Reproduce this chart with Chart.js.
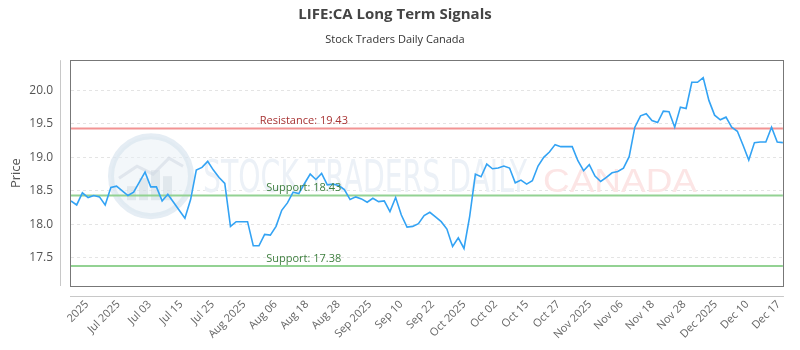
<!DOCTYPE html>
<html>
<head>
<meta charset="utf-8">
<script src="https://cdn.jsdelivr.net/npm/chart.js@4.4.1/dist/chart.umd.min.js"></script>
<style>
    html, body { margin: 0; padding: 0; background: #fff; }
</style>
</head>
<body>
<canvas id="signalChart" width="800" height="350"></canvas>
<script>
// daily closes
const prices = [
    18.35, 18.29, 18.47, 18.40, 18.43, 18.41, 18.29, 18.55, 18.57, 18.50,
    18.43, 18.48, 18.63, 18.78, 18.56, 18.56, 18.35, 18.45, 18.33, 18.21,
    18.09, 18.37, 18.81, 18.85, 18.94, 18.81, 18.70, 18.61, 17.97, 18.04,
    18.04, 18.04, 17.68, 17.68, 17.85, 17.84, 17.97, 18.21, 18.32, 18.48,
    18.46, 18.61, 18.75, 18.67, 18.76, 18.59, 18.60, 18.58, 18.52, 18.37,
    18.41, 18.38, 18.33, 18.39, 18.34, 18.35, 18.19, 18.40, 18.14, 17.96,
    17.97, 18.01, 18.13, 18.18, 18.11, 18.04, 17.93, 17.67, 17.80, 17.64,
    18.12, 18.75, 18.71, 18.90, 18.83, 18.84, 18.87, 18.84, 18.62, 18.66,
    18.60, 18.65, 18.87, 19.00, 19.08, 19.19, 19.16, 19.16, 19.16, 18.95,
    18.80, 18.89, 18.72, 18.64, 18.70, 18.77, 18.79, 18.84, 19.01, 19.45,
    19.62, 19.65, 19.55, 19.52, 19.69, 19.68, 19.45, 19.75, 19.73, 20.12,
    20.12, 20.19, 19.85, 19.63, 19.56, 19.60, 19.45, 19.39, 19.18, 18.96,
    19.22, 19.23, 19.23, 19.45, 19.23, 19.22
];

const tickLabels = [
    '2025', 'Jul 2025', 'Jul 03', 'Jul 15', 'Jul 25', 'Aug 2025', 'Aug 06',
    'Aug 18', 'Aug 28', 'Sep 2025', 'Sep 10', 'Sep 22', 'Oct 2025', 'Oct 02',
    'Oct 15', 'Oct 27', 'Nov 2025', 'Nov 06', 'Nov 18', 'Nov 28', 'Dec 2025',
    'Dec 10', 'Dec 17'
];

const levelNames = ['Resistance', 'Support', 'Support'];
const levelValues = [19.43, 18.43, 17.38];
const levelColors = ['#f29393', '#93d293', '#93d293'];
const levelTextColors = ['#a83434', '#3f7f3f', '#3f7f3f'];

// where the labelled ticks fall, in data-index units
const tickStart = 2.8;
const tickStep = 5.52;

const FONT = '"Open Sans", "Noto Sans", sans-serif';
const lastIndex = prices.length - 1;

function levelLine(v) {
    return [{ x: 0, y: v }, { x: lastIndex, y: v }];
}

function drawWatermark(ctx, area) {
    const l = area.left, t = area.top;
    ctx.save();
    ctx.beginPath();
    ctx.rect(area.left, area.top, area.right - area.left, area.bottom - area.top);
    ctx.clip();

    // round logo
    const cx = l + 80, cy = t + 116, r = 40;
    ctx.beginPath();
    ctx.arc(cx, cy, r, 0, Math.PI * 2);
    ctx.fillStyle = 'rgba(232,239,246,0.5)';
    ctx.fill();
    ctx.lineWidth = 6;
    ctx.strokeStyle = 'rgba(218,229,240,0.7)';
    ctx.stroke();

    ctx.fillStyle = 'rgba(205,213,222,0.45)';
    [[-24, 14], [-12, 22], [0, 30], [12, 24]].forEach(([dx, h]) => {
        ctx.fillRect(cx + dx, cy + 24 - h, 9, h);
    });
    ctx.beginPath();
    ctx.moveTo(cx - 32, cy + 2);
    ctx.lineTo(cx - 14, cy - 10);
    ctx.lineTo(cx + 2, cy - 2);
    ctx.lineTo(cx + 18, cy - 18);
    ctx.lineTo(cx + 32, cy - 10);
    ctx.lineWidth = 3;
    ctx.strokeStyle = 'rgba(205,214,225,0.5)';
    ctx.stroke();

    // text
    ctx.textBaseline = 'alphabetic';
    ctx.textAlign = 'left';
    ctx.font = '44px "DejaVu Sans Condensed", "DejaVu Sans", sans-serif';
    const txt = 'STOCK TRADERS DAILY';
    const w = ctx.measureText(txt).width;
    ctx.save();
    ctx.translate(l + 132, t + 132);
    ctx.scale(324 / w, 1);
    ctx.fillStyle = '#ecf1f7';
    ctx.fillText(txt, 0, 0);
    ctx.restore();

    ctx.font = '33px "Liberation Sans", Arial, sans-serif';
    const w2 = ctx.measureText('CANADA').width;
    ctx.save();
    ctx.translate(l + 472, t + 132);
    ctx.scale(154 / w2, 1);
    ctx.fillStyle = '#fce5e5';
    ctx.fillText('CANADA', 0, 0);
    ctx.restore();

    ctx.restore();
}

const framePlugin = {
    id: 'frame',
    beforeDatasetsDraw(chart) {
        drawWatermark(chart.ctx, chart.chartArea);
    },
    afterDatasetsDraw(chart) {
        const ctx = chart.ctx;
        const a = chart.chartArea;
        const y = chart.scales.y;

        // level captions
        ctx.save();
        ctx.font = '11px ' + FONT;
        ctx.textAlign = 'center';
        ctx.textBaseline = 'bottom';
        levelValues.forEach((v, i) => {
            ctx.fillStyle = levelTextColors[i];
            ctx.fillText(levelNames[i] + ': ' + v.toFixed(2),
                a.left + (a.right - a.left) * 0.327, y.getPixelForValue(v) - 2);
        });
        ctx.restore();

        // box round the plot
        ctx.save();
        ctx.strokeStyle = '#777';
        ctx.lineWidth = 1;
        ctx.strokeRect(Math.round(a.left) - 0.5, Math.round(a.top) + 0.5,
            Math.round(a.right - a.left) + 1, Math.round(a.bottom - a.top));

        // detached axis lines
        ctx.strokeStyle = '#c8c8c8';
        ctx.beginPath();
        ctx.moveTo(Math.round(a.left) - 10.5, a.top);
        ctx.lineTo(Math.round(a.left) - 10.5, a.bottom);
        ctx.moveTo(a.left - 1, Math.round(a.bottom) + 10.5);
        ctx.lineTo(a.right + 1, Math.round(a.bottom) + 10.5);
        ctx.stroke();
        ctx.restore();
    }
};

const datasets = [{
    label: 'Price',
    data: prices.map((v, i) => ({ x: i, y: v })),
    borderColor: '#33a3f4',
    borderWidth: 1.6,
    pointRadius: 0,
    tension: 0,
    order: 0
}];
levelValues.forEach((v, i) => {
    datasets.push({
        label: levelNames[i],
        data: levelLine(v),
        borderColor: levelColors[i],
        borderWidth: 2,
        pointRadius: 0,
        order: 1
    });
});

new Chart(document.getElementById('signalChart').getContext('2d'), {
    type: 'line',
    data: { datasets },
    options: {
        responsive: false,
        animation: false,
        layout: { padding: { left: 0, right: 10, top: 0, bottom: 0 } },
        plugins: {
            legend: { display: false },
            tooltip: { enabled: false },
            title: {
                display: true,
                text: 'LIFE:CA Long Term Signals',
                color: '#444',
                font: { family: FONT, size: 15, weight: 'bold' },
                padding: { top: 6, bottom: 5 }
            },
            subtitle: {
                display: true,
                text: 'Stock Traders Daily Canada',
                color: '#333',
                font: { family: FONT, size: 11 },
                padding: { top: 4, bottom: 14 }
            }
        },
        scales: {
            x: {
                type: 'linear',
                min: 0,
                max: lastIndex,
                afterBuildTicks(scale) {
                    scale.ticks = tickLabels.map((_, i) => ({ value: tickStart + i * tickStep }));
                },
                afterFit(scale) { scale.height = 64; },
                grid: { display: false, drawTicks: false },
                border: { display: false },
                ticks: {
                    autoSkip: false,
                    maxRotation: 45,
                    minRotation: 45,
                    padding: 12,
                    color: '#666',
                    font: { family: FONT, size: 11 },
                    callback: (v, i) => tickLabels[i]
                }
            },
            y: {
                min: 17.08,
                max: 20.45,
                afterFit(scale) { scale.width = 71; },
                title: {
                    display: true,
                    text: 'Price',
                    color: '#555',
                    font: { family: FONT, size: 13 },
                    padding: { top: 8, bottom: 0 }
                },
                grid: { color: '#e4e4e4', drawTicks: false },
                border: { display: false, dash: [3, 3] },
                ticks: {
                    stepSize: 0.5,
                    includeBounds: false,
                    padding: 18,
                    color: '#555',
                    font: { family: FONT, size: 12 },
                    callback: v => v.toFixed(1)
                }
            }
        }
    },
    plugins: [framePlugin]
});
</script>
</body>
</html>
